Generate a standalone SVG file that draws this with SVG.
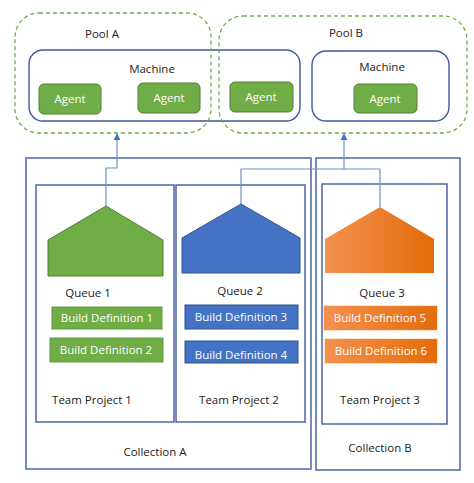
<svg xmlns="http://www.w3.org/2000/svg" width="474" height="483" viewBox="0 0 474 483">
<style>
text{font-family:"Open Sans","Noto Sans","DejaVu Sans",sans-serif;font-size:11.5px;fill:#222;text-anchor:middle}
.pool{fill:none;stroke:#70AD47;stroke-width:1.3;stroke-dasharray:4 3}
.box{fill:#fff;stroke:#4A67A8;stroke-width:1.5}
.mach{fill:none;stroke:#3D5A9E;stroke-width:1.4}
.agent{fill:#70AD47;stroke:#507E32;stroke-width:1}
.wt{fill:#fff}
.bdg{fill:#70AD47;stroke:#5E9A3A;stroke-width:1}
.bdb{fill:#4472C4;stroke:#2F528F;stroke-width:1}
.bdo{fill:url(#og);stroke:#F08A40;stroke-width:0.5}
.conn{fill:none;stroke:#6F8FCB;stroke-width:1.2}
</style>
<defs>
<linearGradient id="og" x1="0" x2="1" y1="0" y2="0"><stop offset="0" stop-color="#F39150"/><stop offset="1" stop-color="#E46C0A"/></linearGradient>
<marker id="ah" viewBox="0 0 10 10" refX="9" refY="5" markerWidth="6" markerHeight="6" orient="auto"><path d="M0,0 L10,5 L0,10 z" fill="#4472C4"/></marker>
<clipPath id="c4"><rect x="185" y="341" width="113" height="22"/></clipPath>
</defs>
<rect width="474" height="483" fill="#fff"/>

<g id="collectionA"><rect class="box" x="26" y="158" width="285" height="311"/><text x="155" y="456">Collection A</text></g>
<g id="collectionB"><rect class="box" x="316" y="158" width="144" height="312"/><text x="380" y="452">Collection B</text></g>

<g id="teamProject1"><rect class="box" x="36" y="185" width="138" height="237"/><text x="92" y="404">Team Project 1</text></g>
<g id="teamProject2"><rect class="box" x="176" y="185" width="129" height="237"/><text x="239" y="404">Team Project 2</text></g>
<g id="teamProject3"><rect class="box" x="322" y="184" width="125" height="240"/><text x="380" y="404">Team Project 3</text></g>

<g id="machine1"><rect class="mach" x="29" y="50" width="271" height="71" rx="14"/><text x="152" y="73">Machine</text></g>
<g id="machine2"><rect class="mach" x="312" y="51" width="137" height="70" rx="14"/><text x="382" y="71">Machine</text></g>

<g id="agent1"><rect class="agent" x="39" y="84" width="62" height="30" rx="5"/><text class="wt" x="70" y="103">Agent</text></g>
<g id="agent2"><rect class="agent" x="138" y="83" width="62" height="30" rx="5"/><text class="wt" x="169" y="102">Agent</text></g>
<g id="agent3"><rect class="agent" x="230" y="82" width="63" height="30" rx="5"/><text class="wt" x="261" y="101">Agent</text></g>
<g id="agent4"><rect class="agent" x="354" y="84" width="63" height="29" rx="5"/><text class="wt" x="385" y="103">Agent</text></g>

<g id="poolA"><rect class="pool" x="15" y="13" width="196" height="120" rx="24"/><text x="102" y="38">Pool A</text></g>
<g id="poolB"><rect class="pool" x="219" y="16" width="248" height="117" rx="24"/><text x="346" y="37">Pool B</text></g>

<g id="connectors">
<path class="conn" d="M106,206 V168 H117 V134" marker-end="url(#ah)"/>
<path class="conn" d="M241,204 V169 H380 V207"/>
<path class="conn" d="M344,169 V134" marker-end="url(#ah)"/>
</g>

<g id="queue1"><polygon points="106,206 163,240 163,276 48,276 48,240" fill="#70AD47" stroke="#507E32" stroke-width="1"/><text x="88" y="297">Queue 1</text></g>
<g id="queue2"><polygon points="241,204 300,238 300,273 182,273 182,238" fill="#4472C4" stroke="#2F528F" stroke-width="1"/><text x="240" y="295">Queue 2</text></g>
<g id="queue3"><polygon points="380,207 434,239 434,273 325,273 325,239" fill="url(#og)"/><text x="382" y="297">Queue 3</text></g>

<g id="bd1"><rect class="bdg" x="52" y="307" width="110" height="22"/><text class="wt" x="107" y="322">Build Definition 1</text></g>
<g id="bd2"><rect class="bdg" x="50" y="338" width="113" height="24"/><text class="wt" x="106" y="354">Build Definition 2</text></g>
<g id="bd3"><rect class="bdb" x="185" y="305" width="113" height="24"/><text class="wt" x="241" y="321">Build Definition 3</text></g>
<g id="bd4"><rect class="bdb" x="185" y="341" width="113" height="22"/><text class="wt" x="241" y="359" clip-path="url(#c4)">Build Definition 4</text></g>
<g id="bd5"><rect class="bdo" x="324" y="306" width="113" height="24"/><text class="wt" x="380" y="322">Build Definition 5</text></g>
<g id="bd6"><rect class="bdo" x="325" y="339" width="112" height="24"/><text class="wt" x="381" y="355">Build Definition 6</text></g>
</svg>
